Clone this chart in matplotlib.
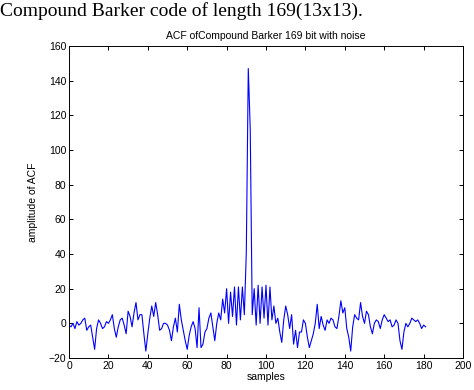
import matplotlib
matplotlib.use("Agg")
import matplotlib.pyplot as plt
import numpy as np

# ACF values, sample 0..181
acf = [
    -1, -2, 0, -3, 1, -1, 0, 2, 3, -4,
    -2, -1, -8, -15, -3, 2, 0, -3, -2, 1,
    0, 2, 5, -3, -8, -2, 2, 3, -1, -6,
    7, 4, -2, 6, 12, 2, 5, 5, -6, -16,
    -6, 3, 10, 4, 12, 5, -4, -3, 0, 0,
    -1, -4, -10, -2, 3, -5, 11, 2, -4, -10,
    -15, -7, -2, 1, -3, -14, 9, -14, -12, -5,
    -3, 3, 6, -2, -10, 0, 6, 2, 14, 6,
    20, 0, 18, 4, 21, -1, 21, 2, 21, 5,
    41, 147, 112, 5, 20, -1, 22, 0, 21, 3,
    22, -1, 21, 2, 10, 0, 3, -5, -11, 2,
    10, 5, -3, 5, -12, -4, -14, -5, -5, 2,
    0, -8, -14, -10, -6, 0, 11, -3, 4, -1,
    -4, 2, 0, 3, 2, -2, -3, 4, 13, 6,
    9, -3, -8, -16, -2, 5, 3, 2, 12, 4,
    0, 7, 5, -2, -6, 0, 2, 1, -3, 2,
    5, 3, 1, 2, -2, -1, 2, 0, -10, -15,
    -5, 0, -2, 0, 3, 2, 1, 2, 0, -3,
    -1, -2,
]
samples = np.arange(len(acf))

x_ticks = list(range(0, 201, 20))
y_ticks = list(range(-20, 161, 20))

SANS = "Liberation Sans"

fig = plt.figure(figsize=(4.74, 3.90), dpi=100)
fig.text(0.0, 0.972, "Compound Barker code of length 169(13x13).",
         family="Liberation Serif", fontsize=14, va="center", ha="left")

ax = fig.add_axes([0.1456, 0.082, 0.8312, 0.800])
ax.plot(samples, acf, color="#0000ff", linewidth=0.8)
ax.set_xlim(0, 200)
ax.set_ylim(-20, 160)
ax.set_xticks(x_ticks)
ax.set_yticks(y_ticks)
ax.tick_params(direction="in", top=True, right=True, length=3, width=0.7,
               labelsize=7.5, pad=2)
for lab in ax.get_xticklabels() + ax.get_yticklabels():
    lab.set_family(SANS)
for sp in ax.spines.values():
    sp.set_linewidth(0.7)

ax.set_title("ACF ofCompound Barker 169 bit with noise", family=SANS,
             fontsize=7.5, pad=5)
ax.set_xlabel("samples", family=SANS, fontsize=7.5, labelpad=1)
ax.set_ylabel("amplitude of ACF", family=SANS, fontsize=7.5, labelpad=8)

fig.savefig("out.png", dpi=100)
